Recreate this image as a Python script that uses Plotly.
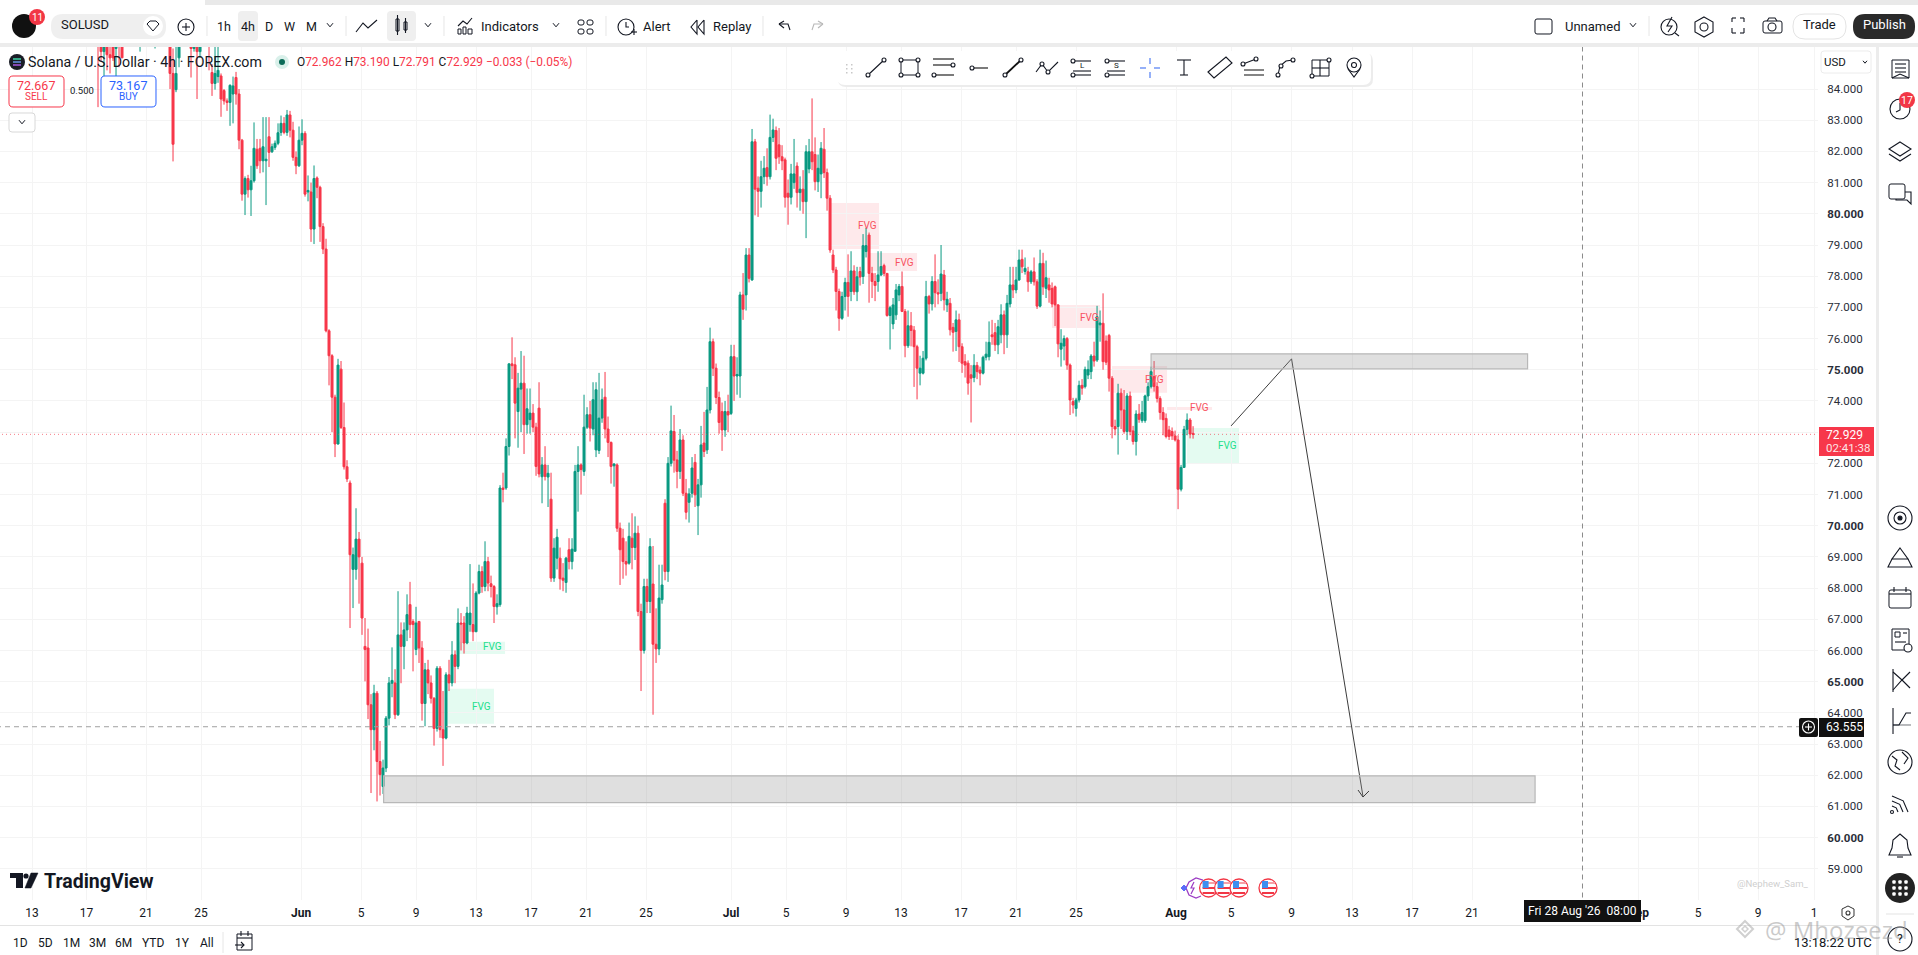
import plotly.graph_objects as go

W, H = 1918, 955
PLOT_RIGHT, PLOT_TOP, PLOT_BOTTOM = 1818, 46, 900
UP, DOWN = "#089981", "#f7374a"
INK = "#131722"

# 4h candles, oldest first (first ones run above the visible top)
opens = [
    85.8,85.6,85.2,85.5,85.1,85.6,85.3,85.9,85.6,85.7,
    85.9,86.1,85.9,86.2,85.7,86.0,86.2,85.9,86.1,85.8,
    86.0,85.9,86.1,85.8,85.8,84.5,83.98,85.0,85.6,85.8,
    85.6,85.6,85.3,85.4,85.2,85.6,85.8,85.8,84.53,84.18,
    84.4,84.42,83.95,83.62,83.57,83.84,84.37,83.84,82.36,80.63,
    81.13,80.77,81.06,82.07,82.1,81.7,81.7,82.47,81.99,82.13,
    82.26,82.61,82.9,82.61,83.17,82.68,81.81,81.54,82.36,82.58,
    80.7,80.7,79.51,81.15,80.85,79.59,78.87,76.25,75.45,74.12,
    72.62,75.02,73.15,71.89,71.37,68.6,68.6,69.57,68.8,66.13,
    66.08,64.26,63.46,64.63,62.44,61.64,62.23,63.83,64.95,64.96,
    63.94,66.5,66.13,66.66,67.47,66.93,66.03,66.93,66.08,64.3,
    65.38,64.96,64.47,63.5,65.43,63.46,63.19,65.22,64.96,65.86,
    65.49,66.88,66.88,66.24,66.83,66.83,66.6,67.84,68.53,68.05,
    68.85,68.14,68.05,67.4,67.47,71.21,71.21,72.54,75.19,75.16,
    73.66,74.38,74.57,73.24,73.4,73.61,73.16,73.77,71.57,71.95,
    71.56,70.85,68.32,68.96,68.96,68.32,68.18,69.23,68.85,69.18,
    71.74,71.95,71.74,73.16,73.56,73.1,72.43,72.41,73.45,74.12,
    73.1,72.67,71.92,71.95,69.92,69.6,68.85,68.8,69.6,69.3,
    69.76,67.25,66.0,68.05,67.57,68.13,66.2,66.05,67.63,70.72,
    68.53,72.0,73.02,72.11,71.74,72.75,71.04,70.75,71.04,72.03,
    70.64,71.31,72.65,72.43,73.71,75.9,75.05,74.11,73.66,73.07,
    73.66,73.6,75.42,74.8,74.8,77.4,77.4,78.68,77.88,82.31,
    80.82,80.72,81.19,81.48,81.19,82.45,82.67,82.21,81.83,81.73,
    80.66,80.53,81.0,81.53,80.68,80.79,80.39,81.44,81.99,81.9,
    81.03,81.28,82.07,81.32,80.5,78.68,78.2,77.51,76.65,77.35,
    77.8,77.51,78.17,77.5,78.15,77.99,78.79,79.32,78.09,77.83,
    77.83,78.04,78.34,78.09,76.74,76.47,76.76,77.4,77.67,76.87,
    75.77,76.41,76.27,75.74,74.89,74.89,75.37,77.35,77.11,77.83,
    77.47,77.45,78.04,77.08,77.13,76.36,76.23,76.6,75.74,75.26,
    75.21,74.84,74.75,75.14,74.99,74.89,75.4,75.42,76.12,76.19,
    75.8,76.12,76.76,76.12,77.11,77.72,77.56,77.88,78.54,78.15,
    78.14,77.82,78.14,77.82,77.04,78.41,77.61,77.72,77.61,77.66,
    77.08,75.66,75.76,76.0,75.15,73.98,73.76,74.03,74.5,74.46,
    74.83,74.94,75.44,75.31,76.44,76.49,75.92,76.1,74.73,73.18,
    73.18,74.25,73.71,73.02,74.16,73.04,72.7,73.58,73.37,73.37,
    74.16,74.46,74.78,74.46,74.08,73.63,73.44,73.07,73.02,72.88,
    72.75,71.17,71.87,73.09,73.39,72.962,
]
closes = [
    85.6,85.2,85.5,85.1,85.0,85.0,85.9,85.6,85.0,85.9,
    86.1,85.9,86.2,85.7,86.0,86.2,85.9,86.1,85.8,86.0,
    85.9,86.1,85.8,86.0,84.5,82.23,84.5,85.5,85.8,85.6,
    85.8,85.3,85.4,85.2,85.6,85.8,85.7,85.4,84.18,84.5,
    84.6,83.68,83.62,83.57,84.12,84.1,83.84,82.36,80.63,81.13,
    80.77,81.06,82.1,81.54,81.7,82.15,81.75,81.97,82.15,82.26,
    82.6,82.9,82.61,83.17,82.68,81.81,81.54,82.36,82.58,80.63,
    80.75,79.51,81.13,80.85,79.59,78.87,76.25,75.45,74.12,72.62,
    75.15,73.15,71.89,71.5,69.07,69.07,69.57,69.0,67.04,66.03,
    64.26,63.46,64.63,62.44,62.02,62.23,63.83,64.96,65.04,63.94,
    66.5,66.13,66.66,67.15,66.83,66.83,66.88,66.08,64.3,65.38,
    64.96,64.47,63.5,65.43,63.46,63.19,65.22,64.96,65.86,65.49,
    66.88,66.85,66.24,67.2,67.2,66.6,67.84,68.53,68.05,68.85,
    68.16,68.05,67.41,67.5,71.21,71.16,72.54,75.19,75.13,73.93,
    74.41,74.57,73.24,73.75,73.61,73.16,71.9,71.66,71.95,71.58,
    71.68,68.32,69.28,69.63,68.3,68.25,68.96,68.85,69.25,71.74,
    71.95,71.8,73.16,73.56,73.13,74.04,74.36,73.45,74.04,73.1,
    72.67,71.9,71.98,69.92,69.23,68.85,68.77,69.66,69.3,69.76,
    67.25,66.0,68.05,67.57,69.33,66.2,66.05,67.68,68.1,68.53,
    72.0,73.04,72.1,71.74,72.75,71.04,70.43,71.02,71.85,70.99,
    71.31,72.59,72.38,73.71,75.9,75.05,74.11,73.31,73.07,73.66,
    73.55,75.42,74.8,74.85,77.4,76.94,78.68,77.93,82.31,80.79,
    80.72,81.19,81.46,81.19,82.45,82.69,81.78,81.83,81.7,80.53,
    80.53,81.28,81.28,80.68,80.79,80.39,81.99,81.99,81.67,81.03,
    81.46,82.1,81.32,80.5,78.84,78.2,77.51,76.65,77.35,77.8,
    77.35,78.17,77.5,77.98,77.97,78.98,78.98,78.09,77.83,77.7,
    78.04,78.31,78.09,76.74,76.99,77.08,77.56,77.67,76.87,75.77,
    76.41,76.26,75.74,75.05,75.05,75.37,77.35,77.11,77.83,77.47,
    77.43,78.07,77.24,77.26,76.28,76.2,76.6,75.74,75.21,75.15,
    74.57,74.73,75.14,74.94,74.89,75.4,75.5,75.88,76.06,75.8,
    76.38,76.76,76.12,77.13,77.72,77.56,77.88,78.52,78.3,78.25,
    77.82,78.14,77.82,77.04,78.41,77.66,77.95,77.56,77.11,77.08,
    75.83,75.85,76.0,75.15,74.03,73.87,74.03,74.5,74.41,75.01,
    75.01,75.44,75.28,76.7,76.5,75.26,75.24,74.73,73.18,73.1,
    74.25,73.71,73.02,74.16,73.02,72.7,73.58,73.41,73.63,74.16,
    74.46,74.94,74.46,74.08,73.63,73.4,72.86,72.86,72.88,72.75,
    71.17,71.87,73.09,73.39,72.94,72.929,
]
highs = [
    86.2,86.1,85.8,86.0,85.9,86.0,86.0,86.1,86.0,86.1,
    86.3,86.4,86.4,86.3,86.2,86.4,86.3,86.2,86.2,86.1,
    86.2,86.3,86.2,86.1,86.0,85.3,85.4,86.0,86.0,86.0,
    86.0,86.0,85.6,85.9,86.0,86.0,86.0,86.0,84.8,85.4,
    85.5,84.5,84.0,83.7,84.15,84.4,84.55,84.0,82.4,81.2,
    81.25,81.54,82.93,82.4,82.4,83.1,83.1,83.1,82.25,82.35,
    82.9,83.15,83.1,83.33,83.3,82.95,82.0,82.8,83.03,82.65,
    81.23,81.0,81.55,81.2,80.9,79.7,79.2,76.3,75.5,74.2,
    75.35,75.28,73.95,72.1,71.45,69.3,70.56,69.8,69.0,67.04,
    66.7,64.6,64.9,64.7,63.1,62.5,63.9,65.15,66.1,65.4,
    67.9,66.9,66.9,67.8,68.2,67.0,67.4,66.95,66.3,65.6,
    65.7,65.2,64.5,65.5,65.5,64.7,65.3,65.7,66.3,66.0,
    67.35,67.2,67.1,67.4,68.77,68.15,67.9,68.75,68.7,69.5,
    69.0,68.4,68.1,67.8,71.3,71.7,72.8,75.2,76.04,75.4,
    74.9,75.6,75.45,74.4,74.4,73.9,73.3,74.6,72.2,72.55,
    71.95,71.7,69.6,69.9,69.3,68.8,69.0,69.6,69.6,71.95,
    72.55,72.0,74.2,73.8,74.0,74.6,74.6,74.9,74.4,74.93,
    73.5,72.7,72.0,72.0,70.1,69.9,69.5,70.1,70.4,70.3,
    70.0,67.5,68.3,68.3,69.6,69.35,67.35,68.75,68.75,70.85,
    72.2,73.85,73.55,72.4,73.1,72.9,71.5,71.2,72.2,72.3,
    71.5,73.2,73.65,74.45,76.35,76.0,75.2,74.3,73.95,74.0,
    74.2,75.8,75.8,75.4,77.5,78.1,78.9,78.9,82.72,82.4,
    81.2,81.7,81.85,82.1,83.18,83.05,82.8,82.75,82.2,81.8,
    81.1,81.6,82.4,81.65,81.2,81.4,82.2,82.4,83.7,82.45,
    81.9,82.3,82.75,81.45,80.6,78.85,78.3,77.6,77.5,77.95,
    78.7,78.8,78.35,78.3,78.3,79.35,79.55,79.4,78.3,78.1,
    78.8,78.8,78.4,78.1,77.05,77.3,77.75,77.75,78.15,76.95,
    76.9,76.85,76.4,75.8,75.45,75.6,77.85,77.4,78.0,78.7,
    77.9,79.0,78.2,77.5,77.3,76.5,76.9,76.8,75.85,75.5,
    75.3,75.15,75.5,75.25,75.1,75.45,75.9,76.55,76.6,76.5,
    76.6,77.1,76.9,77.4,78.3,78.3,78.3,78.85,78.85,78.6,
    78.3,78.2,78.6,77.9,78.85,78.75,78.5,77.95,77.8,77.7,
    77.1,76.3,76.1,76.05,75.2,74.1,74.1,74.65,74.7,75.1,
    75.3,75.5,75.9,77.05,76.9,77.45,76.1,76.15,74.8,73.4,
    74.55,74.4,74.35,74.25,74.3,73.2,73.7,73.9,74.0,74.2,
    74.6,75.1,75.28,74.6,74.15,73.8,73.6,73.2,73.15,73.05,
    72.9,71.95,73.2,73.6,73.45,73.19,
]
lows = [
    83.42,84.9,84.4,84.6,84.5,84.9,84.4,84.7,85.0,85.6,
    85.8,85.7,85.8,85.5,85.2,85.8,85.7,85.7,85.6,85.3,
    85.7,85.7,85.7,85.6,84.0,81.68,83.9,84.7,85.5,85.5,
    85.5,84.37,85.2,83.68,85.0,85.5,85.5,84.6,83.78,83.98,
    84.2,83.11,83.5,83.3,82.82,82.9,83.5,82.07,80.42,79.96,
    80.52,79.93,81.0,81.44,81.3,81.33,80.28,81.5,81.95,82.05,
    82.2,82.5,82.55,82.5,82.45,81.7,81.27,81.5,82.2,80.55,
    80.4,79.1,79.03,80.5,79.1,78.71,76.2,74.5,73.0,72.2,
    72.6,73.1,71.8,71.4,66.72,67.36,68.27,67.5,66.5,65.01,
    63.8,61.43,62.8,61.16,61.35,61.4,62.1,63.6,64.5,63.8,
    63.9,64.95,65.4,66.3,66.4,65.33,65.85,65.6,63.75,63.57,
    64.6,64.3,62.95,63.4,63.2,62.3,63.15,64.7,64.85,64.95,
    65.4,66.0,65.9,66.2,66.6,66.3,66.6,67.8,67.85,67.9,
    67.9,67.7,66.88,67.15,67.4,70.75,71.15,72.25,74.7,72.8,
    72.5,73.0,72.3,72.95,72.95,73.0,71.6,71.55,70.72,71.45,
    70.6,68.2,68.2,68.6,67.95,67.9,67.85,68.6,68.6,69.18,
    70.45,71.0,71.6,73.1,72.7,72.9,72.2,72.3,73.3,72.8,
    72.2,71.35,71.25,69.8,68.1,68.3,68.4,68.75,68.6,68.9,
    67.1,64.7,65.9,67.2,67.2,63.94,65.6,65.85,67.5,68.25,
    68.2,71.9,71.7,71.2,71.5,70.95,70.2,70.1,70.9,70.6,
    69.7,70.9,72.2,72.3,73.6,74.8,73.9,72.95,72.4,72.85,
    73.0,73.55,74.0,74.2,74.1,76.6,76.9,77.8,77.85,79.95,
    79.9,80.2,80.95,80.9,81.1,82.3,81.4,81.6,81.4,80.2,
    79.65,80.3,80.8,80.2,80.1,80.0,79.22,81.3,81.4,80.75,
    80.7,80.5,81.15,80.1,78.75,78.1,76.9,76.25,76.6,76.9,
    76.7,77.2,77.4,77.2,77.7,77.75,78.6,77.15,77.3,77.2,
    77.5,78.0,78.0,76.7,75.65,76.3,76.6,77.2,76.85,75.4,
    75.7,75.75,74.45,74.05,74.5,74.85,75.3,76.8,76.9,77.0,
    77.1,77.2,76.9,76.85,76.1,75.58,75.6,75.25,74.9,74.75,
    74.2,73.31,74.6,74.7,74.5,74.85,75.3,75.3,75.8,75.6,
    75.5,75.85,75.5,75.7,77.0,77.3,77.45,77.85,78.1,78.05,
    77.5,77.75,77.7,76.95,77.0,77.4,77.3,77.15,77.0,76.4,
    75.4,75.1,75.3,75.0,73.55,73.6,73.5,73.95,74.2,74.4,
    74.7,74.7,75.1,75.25,75.9,75.0,75.15,74.3,72.8,72.9,
    72.28,73.1,72.95,72.75,72.9,72.6,72.25,73.3,73.3,73.3,
    74.0,74.4,74.3,73.95,73.4,72.9,72.8,72.75,72.75,72.7,
    70.53,71.1,71.85,72.9,72.8,72.791,
]
assert len(opens) == len(closes) == len(highs) == len(lows)
bars = list(range(len(opens)))

price_ticks = list(range(59, 85))
date_ticks = [-22, -3.83, 16, 34.33, 67.67, 87.67, 106, 126, 144.33, 162.67, 182.67, 211, 229.33, 249.33,
              267.67, 287.67, 306, 326, 359.33, 377.67, 397.83, 418, 438, 458, 513.5, 533.33, 553.33, 572]
date_labels = ["13", "17", "21", "25", "<b>Jun</b>", "5", "9", "13", "17", "21", "25", "<b>Jul</b>", "5", "9",
               "13", "17", "21", "25", "<b>Aug</b>", "5", "9", "13", "17", "21", "<b>Sep</b>", "5", "9", "1"]

last_price = 72.929
cross_price = 63.555
cross_bar = 494.8

# fair value gaps: left bar, right bar, top, bottom, label bar, label price
fvg_red = [
    (244, 260.33, 80.35, 78.87, 256.33, 79.61),
    (256.67, 273, 78.74, 78.17, 268.67, 78.45),
    (318, 334, 77.08, 76.34, 330.33, 76.69),
    (338, 356.33, 75.12, 74.26, 352, 74.7),
    (356.33, 371.33, 73.81, 73.71, 367, 73.78),
]
fvg_green = [
    (363, 380.33, 73.13, 72.01, 376.33, 72.56),
    (120, 135.67, 66.28, 65.89, 131.33, 66.12),
    (116.67, 132, 64.77, 63.65, 127.67, 64.19),
]
zones = [(95.2, 479, 61.98, 61.12), (351, 476.5, 75.51, 75.03)]
path_bars = [377.67, 397.83, 421.67]
path_prices = [73.2, 75.35, 61.3]

shapes, notes = [], []


def X(px):
    return px / W


def Y(py):
    return 1 - py / H


def txt(x, y, s, size=12, color=INK, anchor="left", family="Roboto"):
    notes.append(dict(x=X(x), y=Y(y), xref="paper", yref="paper", text=s, showarrow=False,
                      xanchor=anchor, yanchor="middle", borderpad=0, borderwidth=0,
                      font=dict(size=size, color=color, family=family)))


def poly(pts, color=INK, w=1.1, fill=None, close=False):
    d = "M " + " L ".join(f"{X(a):.5f} {Y(b):.5f}" for a, b in pts) + (" Z" if close else "")
    shapes.append(dict(type="path", path=d, xref="paper", yref="paper", layer="above",
                       line=dict(color=color, width=w), fillcolor=fill or "rgba(0,0,0,0)"))


def box(x0, y0, x1, y1, fill=None, line=None, w=1, r=0):
    if r:
        d = (f"M {X(x0+r):.5f} {Y(y0):.5f} L {X(x1-r):.5f} {Y(y0):.5f} Q {X(x1):.5f} {Y(y0):.5f} {X(x1):.5f} {Y(y0+r):.5f} "
             f"L {X(x1):.5f} {Y(y1-r):.5f} Q {X(x1):.5f} {Y(y1):.5f} {X(x1-r):.5f} {Y(y1):.5f} "
             f"L {X(x0+r):.5f} {Y(y1):.5f} Q {X(x0):.5f} {Y(y1):.5f} {X(x0):.5f} {Y(y1-r):.5f} "
             f"L {X(x0):.5f} {Y(y0+r):.5f} Q {X(x0):.5f} {Y(y0):.5f} {X(x0+r):.5f} {Y(y0):.5f} Z")
        shapes.append(dict(type="path", path=d, xref="paper", yref="paper", layer="above",
                           line=dict(color=line or "rgba(0,0,0,0)", width=w if line else 0),
                           fillcolor=fill or "rgba(0,0,0,0)"))
    else:
        shapes.append(dict(type="rect", x0=X(x0), x1=X(x1), y0=Y(y1), y1=Y(y0), xref="paper", yref="paper",
                           layer="above", line=dict(color=line or "rgba(0,0,0,0)", width=w if line else 0),
                           fillcolor=fill or "rgba(0,0,0,0)"))


def circ(cx, cy, r, line=INK, fill=None, w=1.1):
    shapes.append(dict(type="circle", x0=X(cx-r), x1=X(cx+r), y0=Y(cy+r), y1=Y(cy-r), xref="paper", yref="paper",
                       layer="above", line=dict(color=line or "rgba(0,0,0,0)", width=w if line else 0),
                       fillcolor=fill or "rgba(0,0,0,0)"))


def chevron(x, y, s=3, color=INK):
    poly([(x-s, y-s*0.6), (x, y+s*0.6), (x+s, y-s*0.6)], color, 1)


fig = go.Figure(go.Candlestick(
    x=bars, open=opens, high=highs, low=lows, close=closes,
    increasing=dict(line=dict(color=UP, width=1), fillcolor=UP),
    decreasing=dict(line=dict(color=DOWN, width=1), fillcolor=DOWN),
    whiskerwidth=0, hoverinfo="skip", showlegend=False,
))

# chart drawings, in price and bar units
for left, right, top, bottom, lx, ly in fvg_red:
    fig.add_shape(type="rect", x0=left, x1=right, y0=bottom, y1=top, layer="below",
                  line_width=0, fillcolor="rgba(242,54,69,0.11)")
    fig.add_annotation(x=lx, y=ly, text="FVG", showarrow=False, font=dict(size=10, color="#f7525f", family="Roboto"))
for left, right, top, bottom, lx, ly in fvg_green:
    fig.add_annotation(x=lx, y=ly, text="FVG", showarrow=False, font=dict(size=10, color="#22e08c", family="Roboto"))
    fig.add_shape(type="rect", x0=left, x1=right, y0=bottom, y1=top, layer="below",
                  line_width=0, fillcolor="rgba(8,220,130,0.11)")
for left, right, top, bottom in zones:
    fig.add_shape(type="rect", x0=left, x1=right, y0=bottom, y1=top, layer="above",
                  line=dict(color="#b8b8b8", width=1.2), fillcolor="rgba(150,150,150,0.3)")
fig.add_trace(go.Scatter(x=path_bars, y=path_prices, mode="lines", line=dict(color="#3c3c3c", width=1),
                         hoverinfo="skip", showlegend=False))
fig.add_shape(type="line", x0=-40, x1=600, y0=last_price, y1=last_price, layer="above",
              line=dict(color="rgba(242,54,69,0.65)", width=1, dash="1px,3px"))
fig.add_shape(type="line", x0=-40, x1=600, y0=cross_price, y1=cross_price, layer="above",
              line=dict(color="#a0a0a0", width=1, dash="5px,4px"))
fig.add_shape(type="line", x0=cross_bar, x1=cross_bar, y0=50, y1=90, layer="above",
              line=dict(color="#8a8a8a", width=1, dash="5px,4px"))
poly([(1358, 790), (1363, 797), (1369, 791)], "#3c3c3c", 1)

# top bar
box(205, 0, W, 5, fill="#e9e9e9")
box(0, 43, W, 47, fill="#ececec")
circ(24, 26, 12, line=None, fill="#111111")
circ(37, 17, 8, line=None, fill="#f23645")
txt(37, 17, "11", 10, "white", "center")
box(51, 14, 166, 39, fill="#efefef", r=12)
txt(61, 25, "SOLUSD", 13)
circ(153, 26, 10, line=None, fill="white")
poly([(147, 24), (150, 21), (156, 21), (159, 24), (153, 31)], INK, 1, close=True)
circ(186, 27, 8)
poly([(182, 27), (190, 27)]); poly([(186, 23), (186, 31)])
box(238, 11, 258, 41, fill="#efefef", r=4)
for cx, s in zip([224, 248, 269, 289, 311], ["1h", "4h", "D", "W", "M"]):
    txt(cx, 26, s, 12.5, INK, "center")
chevron(330, 25)
for sx in [207, 346, 444, 606, 763, 1649]:
    poly([(sx, 16), (sx, 36)], "#e6e6e6", 1)
poly([(356, 32), (363, 23), (368, 28), (377, 20)])
box(387, 11, 416, 41, fill="#efefef", r=4)
box(396, 19, 399, 31, line=INK); poly([(397.5, 15), (397.5, 35)])
box(404, 22, 407, 30, line=INK); poly([(405.5, 18), (405.5, 33)])
chevron(428, 25)
poly([(458, 26), (463, 21), (467, 24), (472, 18)])
box(458, 29, 461, 34, line=INK); box(463, 27, 466, 34, line=INK); box(468, 29, 472, 34, line=INK)
txt(481, 26, "Indicators", 13)
chevron(556, 25)
for gx in [578, 587]:
    for gy in [20, 29]:
        box(gx, gy, gx+6, gy+5, line=INK, r=2)
circ(626, 27, 8); poly([(626, 22), (626, 27), (629, 27)]); poly([(631, 32), (637, 32)]); poly([(634, 29), (634, 35)])
txt(643, 26, "Alert", 13)
poly([(697, 20), (691, 27), (697, 34), (697, 20)]); poly([(704, 20), (698, 27), (704, 34), (704, 20)])
txt(713, 26, "Replay", 13)
poly([(779, 24), (784, 21)]); poly([(779, 24), (784, 28)]); poly([(779, 24), (788, 24), (790, 30)])
poly([(823, 24), (818, 21)], "#b8b8b8"); poly([(823, 24), (818, 28)], "#b8b8b8"); poly([(823, 24), (814, 24), (812, 30)], "#b8b8b8")
box(1535, 19, 1552, 34, line=INK, r=2)
txt(1565, 26, "Unnamed", 13)
chevron(1633, 25)
circ(1669, 27, 8); poly([(1675, 33), (1679, 36)]); poly([(1672, 17), (1667, 26), (1672, 26), (1668, 32)])
poly([(1704, 17), (1713, 22), (1713, 32), (1704, 37), (1695, 32), (1695, 22)], close=True); circ(1704, 27, 4)
for a, b in [((1732, 22), (1732, 18)), ((1744, 22), (1744, 18)), ((1732, 28), (1732, 33)), ((1744, 28), (1744, 33))]:
    poly([a, b])
poly([(1732, 18), (1736, 18)]); poly([(1740, 18), (1744, 18)]); poly([(1732, 33), (1736, 33)]); poly([(1740, 33), (1744, 33)])
box(1763, 21, 1782, 33, line=INK, r=2); circ(1772, 27, 4); poly([(1767, 21), (1769, 18), (1775, 18), (1777, 21)])
box(1793, 14, 1846, 39, fill="white", line="#e4e4e4", r=12)
txt(1819, 25, "Trade", 13, INK, "center")
box(1853, 14, 1915, 39, fill="#2a2a2a", r=12)
txt(1884, 25, "Publish", 13, "white", "center")

# legend and trade buttons
circ(17, 62, 8, line=None, fill="#1a1d26")
poly([(13, 59), (21, 59)], "#43e6b0", 1.4); poly([(13, 62), (21, 62)], "#6e9ef5", 1.4); poly([(13, 65), (21, 65)], "#b25cf0", 1.4)
txt(28, 62, "Solana / U.S. Dollar · 4h · FOREX.com", 14.2)
circ(282, 62, 7, line=None, fill="#d9f0ea")
circ(282, 62, 3, line=None, fill="#0b6b58")
r_ = DOWN
txt(297, 62, f"O<span style='color:{r_}'>72.962</span> H<span style='color:{r_}'>73.190</span> "
             f"L<span style='color:{r_}'>72.791</span> C<span style='color:{r_}'>72.929</span> "
             f"<span style='color:{r_}'>−0.033 (−0.05%)</span>", 11.9)
box(9, 76, 64, 107, fill="white", line=DOWN, r=4)
txt(36, 85, "72.667", 12.5, DOWN, "center"); txt(36, 97, "SELL", 10, DOWN, "center")
txt(82, 91, "0.500", 9.5, INK, "center")
box(101, 76, 156, 107, fill="white", line="#2962ff", r=4)
txt(128, 85, "73.167", 12.5, "#2962ff", "center"); txt(128, 97, "BUY", 10, "#2962ff", "center")
box(9, 113, 35, 132, fill="white", line="#d8d8d8", r=3)
chevron(22, 122)

# floating drawing toolbar
box(838, 53, 1373, 87, fill="#ececec", r=8)
box(837, 51, 1371, 85, fill="white", r=8)
for gx in [846, 851]:
    for gy in [64, 68, 72]:
        box(gx, gy, gx+1.5, gy+1.5, fill="#c8c8c8")
poly([(868, 75), (884, 60)]); circ(868, 75, 2, fill="white"); circ(884, 60, 2, fill="white")
box(901, 60, 918, 75, line=INK)
for a, b in [(901, 60), (918, 60), (901, 75), (918, 75)]:
    circ(a, b, 2, fill="white")
for gy in [59, 65, 75]:
    poly([(933, gy), (954, gy)], "#333333", 1.3)
circ(953, 65, 2, fill="white"); circ(934, 75, 2, fill="white")
poly([(972, 68), (988, 68)], "#333333", 1.3); circ(972, 68, 2, fill="white")
poly([(1005, 75), (1021, 60)], "#111111", 1.8); circ(1005, 75, 2, fill="white"); circ(1021, 60, 2, fill="white")
poly([(1036, 72), (1042, 64), (1048, 72), (1058, 62)]); circ(1042, 64, 2, fill="white"); circ(1048, 72, 2, fill="white")
for sx, s in [(1071, "L"), (1105, "S")]:
    poly([(sx+2, 61), (sx+20, 61)]); poly([(sx+2, 75), (sx+20, 75)]); poly([(sx+2, 71), (sx+20, 71)])
    circ(sx+2, 61, 2, fill="white"); circ(sx+2, 75, 2, fill="white")
    txt(sx+11, 66, s, 8, INK, "center")
for a, b in [((1150, 58), (1150, 64)), ((1150, 72), (1150, 78)), ((1140, 68), (1146, 68)), ((1154, 68), (1160, 68))]:
    poly([a, b], "#8aa8f8", 1.8)
poly([(1177, 60), (1191, 60)]); poly([(1184, 60), (1184, 75)]); poly([(1180, 75), (1188, 75)])
poly([(1208, 72), (1226, 57), (1232, 63), (1214, 78)], close=True)
poly([(1244, 70), (1264, 70)], "#333333", 1.2); poly([(1244, 75), (1264, 75)], "#333333", 1.2)
poly([(1243, 64), (1256, 59)]); circ(1243, 64, 2, fill="white"); circ(1256, 59, 2, fill="white")
poly([(1278, 75), (1280, 66), (1286, 61), (1293, 60)]); circ(1281, 66, 2, fill="white"); circ(1293, 60, 2, fill="white"); circ(1278, 75, 2, fill="white")
box(1312, 60, 1329, 76, line=INK); poly([(1320, 60), (1320, 76)]); poly([(1312, 68), (1329, 68)]); circ(1312, 76, 2, fill="white"); circ(1329, 60, 2, fill="white")
circ(1354, 65, 7); circ(1354, 65, 2.5); poly([(1348, 69), (1354, 77), (1360, 69)])

# price panel labels
box(1821, 51, 1871, 73, fill="white", line="#ececec", r=3)
txt(1824, 62, "USD", 11.5)
chevron(1865, 62, 2)
box(1819, 427, 1874, 456, fill=DOWN)
txt(1826, 435, "72.929", 12, "white")
txt(1826, 448, "02:41:38", 11.5, "#fde3e5")
box(1799, 718, 1818, 737, fill="#111111", r=2)
circ(1808.5, 727, 6, line="white")
poly([(1805, 727), (1812, 727)], "white"); poly([(1808.5, 723.5), (1808.5, 730.5)], "white")
box(1819, 718, 1864, 737, fill="#111111")
txt(1826, 727, "63.555", 12, "white")
box(1524, 900, 1641, 922, fill="#111111")
txt(1582, 911, "Fri 28 Aug '26&nbsp;&nbsp;08:00", 12, "white", "center")
poly([(1848, 906), (1854, 909), (1854, 916), (1848, 920), (1842, 916), (1842, 909)], "#333333", 1, close=True); circ(1848, 913, 2, line="#333333")
txt(1773, 883, "@Nephew_Sam_", 9.5, "#cfcfcf", "center")

# tradingview logotype
box(10, 873, 23, 878, fill="#131722"); box(16, 873, 23, 888, fill="#131722")
circ(26, 876, 2.6, line=None, fill="#131722")
poly([(31, 873), (38, 873), (31, 888), (25, 888)], "#131722", 0.5, fill="#131722", close=True)
txt(44, 881, "<b>TradingView</b>", 19.5, "#131722")

# event markers
poly([(1203, 880), (1196, 878), (1189, 882), (1186, 888), (1189, 895), (1196, 898), (1201, 896)], "#9c3cc4", 1.3)
poly([(1194, 882), (1191, 888), (1194, 888), (1191, 894)], "#9c3cc4", 1.2)
poly([(1184, 885), (1187, 888), (1184, 891), (1181, 888)], "#5b6cf8", 1, fill="#5b6cf8", close=True)
for fx in [1208.6, 1223.6, 1239, 1268]:
    circ(fx, 888, 9, line="#f23645", fill="white", w=1.3)
    box(fx-6, 882, fx+7, 884, fill="#f7a0a7"); box(fx-6, 887, fx+8, 889, fill="#f23645"); box(fx-6, 892, fx+6, 894, fill="#f23645")
    box(fx-6, 881, fx, 888, fill="#3d8ff0")

# time controls
box(0, 925, 1876, 926, fill="#e3e3e3")
for cx, s in zip([20, 45, 71, 97, 123, 153, 182, 207], ["1D", "5D", "1M", "3M", "6M", "YTD", "1Y", "All"]):
    txt(cx, 943, s, 12, INK, "center")
poly([(223, 932), (223, 953)], "#e6e6e6", 1)
box(237, 934, 252, 950, line=INK); poly([(237, 938), (252, 938)]); poly([(241, 931), (241, 936)]); poly([(248, 931), (248, 936)])
poly([(235, 945), (244, 945)]); poly([(241, 942), (244, 945), (241, 948)])
txt(1794, 942, "13:18:22 UTC", 13, "#131722")

# watermark
poly([(1745, 921), (1753, 929), (1745, 937), (1737, 929)], "rgba(170,170,170,0.55)", 2, close=True)
poly([(1745, 926), (1748, 929), (1745, 932), (1742, 929)], "rgba(170,170,170,0.55)", 1.5, close=True)
txt(1765, 929, "@ Mhozeezd", 24, "rgba(150,150,150,0.5)", family="Open Sans")

# right sidebar
box(1876, 47, 1879, H, fill="#ececec")
box(1892, 60, 1909, 78, line=INK); poly([(1892, 78), (1900, 74), (1909, 78)])
for gy in [64, 68, 72]:
    poly([(1895, gy), (1906, gy)])
circ(1900, 109, 10); poly([(1900, 103), (1900, 110), (1896, 112)])
circ(1907, 100, 8, line=None, fill="#f23645"); txt(1907, 100, "17", 10.5, "white", "center")
poly([(1900, 142), (1911, 149), (1900, 156), (1889, 149)], close=True); poly([(1889, 154), (1900, 161), (1911, 154)])
box(1889, 184, 1905, 199, line=INK, r=2); poly([(1905, 192), (1911, 192), (1911, 204), (1907, 200), (1896, 200), (1896, 199)])
circ(1900, 518, 12); circ(1900, 518, 6); circ(1900, 518, 2, fill=INK)
poly([(1900, 548), (1908, 559), (1892, 559)], close=True); poly([(1892, 559), (1888, 567), (1912, 567), (1908, 559)])
box(1889, 590, 1911, 608, line=INK, r=2); poly([(1889, 594), (1911, 594)]); poly([(1894, 587), (1894, 592)]); poly([(1906, 587), (1906, 592)])
box(1892, 629, 1909, 650, line=INK); box(1895, 632, 1900, 637, line=INK); poly([(1903, 633), (1907, 633)]); poly([(1895, 642), (1906, 642)]); circ(1908, 648, 4, fill="white")
poly([(1893, 669), (1893, 692)]); poly([(1893, 690), (1902, 680), (1910, 672)]); poly([(1893, 672), (1902, 680), (1910, 688)])
poly([(1893, 708), (1893, 734)]); poly([(1893, 725), (1899, 725), (1906, 713), (1911, 713)]); poly([(1893, 725), (1911, 725)], INK, 0.6)
circ(1900, 762, 12); poly([(1892, 756), (1897, 760), (1895, 766), (1900, 770)]); poly([(1902, 752), (1908, 758), (1904, 764)])
circ(1892, 812, 1.5)
for rad in [6, 11, 16]:
    poly([(1892, 812-rad), (1892+rad*0.7, 812-rad*0.7), (1892+rad, 812)])
poly([(1889, 855), (1892, 848), (1893, 840), (1900, 834), (1907, 840), (1908, 848), (1911, 855)], close=True); poly([(1897, 857), (1903, 857)])
circ(1900, 888, 15, line=None, fill="#222222")
for gx in [1894, 1900, 1906]:
    for gy in [882, 888, 894]:
        box(gx-1.7, gy-1.7, gx+1.7, gy+1.7, fill="white", r=1)
poly([(1886, 914), (1914, 914)], "#e3e3e3", 1)
circ(1900, 939, 12); txt(1900, 939, "?", 12, INK, "center")

fig.update_layout(
    width=W, height=H, margin=dict(l=0, r=0, t=0, b=0), autosize=False,
    paper_bgcolor="white", plot_bgcolor="white", showlegend=False, dragmode=False, boxgap=0.05,
    font=dict(family="Roboto", size=12, color=INK),
    xaxis=dict(domain=[0, PLOT_RIGHT / W], range=[-32.67, 573.3], rangeslider=dict(visible=False),
               tickmode="array", tickvals=date_ticks, ticktext=date_labels, showgrid=True,
               gridcolor="#f4f4f4", gridwidth=1, zeroline=False, showline=False, ticks="outside",
               ticklen=2, tickcolor="rgba(0,0,0,0)", tickfont=dict(size=12, color=INK)),
    yaxis=dict(domain=[1 - PLOT_BOTTOM / H, 1 - PLOT_TOP / H], range=[58.0, 85.38], side="right",
               tickmode="array", tickvals=price_ticks,
               ticktext=[f"<b>{p:.3f}</b>" if p % 5 == 0 else f"{p:.3f}" for p in price_ticks],
               showgrid=True, gridcolor="#f4f4f4", gridwidth=1, zeroline=False, showline=False,
               ticks="outside", ticklen=6, tickcolor="rgba(0,0,0,0)", tickfont=dict(size=11.5, color="#2a2e39")),
    shapes=list(fig.layout.shapes) + shapes,
    annotations=list(fig.layout.annotations) + notes,
)

fig.write_html("out.html", config={"displayModeBar": False}, post_script="document.body.style.margin='0'")
